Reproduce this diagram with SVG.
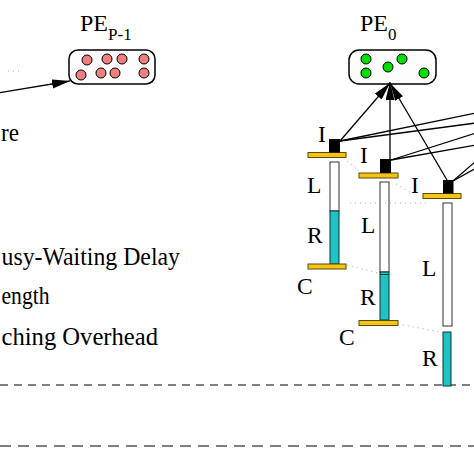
<svg xmlns="http://www.w3.org/2000/svg" width="474" height="474" viewBox="0 0 474 474">
<style>
text{font-family:"Liberation Serif","Times New Roman",serif;fill:#000}
.lbl{font-size:23.5px}
.leg{font-size:24.5px}
.box{fill:#fdfdfd;stroke:#000;stroke-width:1.5}
.pink{fill:#f08080;stroke:#000;stroke-width:1}
.grn{fill:#00e000;stroke:#000;stroke-width:1}
.blk{fill:#000}
.ybar{fill:#f2c418;stroke:#5a4a00;stroke-width:1}
.wbar{fill:#fff;stroke:#333;stroke-width:1}
.cbar{fill:#1ec4c4;stroke:#133;stroke-width:1}
.ln{stroke:#000;stroke-width:1.3;fill:none}
.dot{stroke:#aaa;stroke-width:1;stroke-dasharray:1,4;fill:none}
.dash{stroke:#555;stroke-width:1.5;fill:none}
</style>
<defs>
<marker id="ah" markerUnits="userSpaceOnUse" markerWidth="20" markerHeight="10" refX="18" refY="4.5" orient="auto">
<path d="M0,0 L18,4.5 L0,9 Z" fill="#000"/>
</marker>
</defs>

<g id="dashes">
<line class="dash" x1="0" y1="385" x2="474" y2="385" stroke-dasharray="8,6"/>
<line class="dash" x1="0" y1="446" x2="474" y2="446" stroke-dasharray="11,7"/>
</g>

<g id="legend">
<text class="leg" x="1" y="141" textLength="18" lengthAdjust="spacingAndGlyphs">re</text>
<text class="leg" x="1.5" y="265" textLength="178.5" lengthAdjust="spacingAndGlyphs">usy-Waiting Delay</text>
<text class="leg" x="1.5" y="304" textLength="48" lengthAdjust="spacingAndGlyphs">ength</text>
<text class="leg" x="1.5" y="345" textLength="156.5" lengthAdjust="spacingAndGlyphs">ching Overhead</text>
</g>

<g id="pe-p1">
<text x="80" y="31" font-size="24">PE<tspan font-size="17" dy="9">P-1</tspan></text>
<rect class="box" x="69" y="50" width="86" height="34" rx="9"/>
<circle class="pink" cx="87" cy="60" r="5"/>
<circle class="pink" cx="107" cy="59" r="5"/>
<circle class="pink" cx="122" cy="59" r="5"/>
<circle class="pink" cx="144" cy="59" r="5"/>
<circle class="pink" cx="81" cy="75" r="5"/>
<circle class="pink" cx="101" cy="73" r="5"/>
<circle class="pink" cx="115" cy="73" r="5"/>
<circle class="pink" cx="144" cy="73" r="5"/>
</g>

<g id="pe-0">
<text x="360" y="31" font-size="24">PE<tspan font-size="17" dy="9">0</tspan></text>
<rect class="box" x="349" y="50" width="87" height="34" rx="10"/>
<circle class="grn" cx="366" cy="59" r="5"/>
<circle class="grn" cx="366" cy="73" r="5"/>
<circle class="grn" cx="388" cy="67" r="5"/>
<circle class="grn" cx="402" cy="59" r="5"/>
<circle class="grn" cx="424" cy="73" r="5"/>
</g>

<g id="col1">
<rect class="wbar" x="330" y="162" width="9" height="49"/>
<rect class="cbar" x="330" y="211" width="9" height="53"/>
<rect class="ybar" x="308" y="152.5" width="38" height="5"/>
<rect class="ybar" x="308" y="264" width="38" height="5"/>
<rect class="blk" x="329" y="139" width="11" height="13.5"/>
<text class="lbl" x="318" y="142">I</text>
<text class="lbl" x="307" y="193">L</text>
<text class="lbl" x="307" y="243">R</text>
<text class="lbl" x="297" y="294">C</text>
</g>

<g id="col2">
<rect class="wbar" x="380" y="182" width="9" height="90"/>
<rect class="cbar" x="380" y="272" width="9" height="48"/>
<line x1="380" y1="274.5" x2="389" y2="274.5" stroke="#133" stroke-width="1"/>
<rect class="ybar" x="359" y="320.5" width="39" height="5"/>
<rect class="ybar" x="359" y="173" width="39" height="5"/>
<rect class="blk" x="380" y="159" width="11" height="14"/>
<text class="lbl" x="360" y="163">I</text>
<text class="lbl" x="361" y="233">L</text>
<text class="lbl" x="360" y="305">R</text>
<text class="lbl" x="339" y="345">C</text>
</g>

<g id="col3">
<rect class="wbar" x="443" y="203" width="9" height="123"/>
<rect class="cbar" x="443" y="332" width="8" height="54"/>
<rect class="ybar" x="423" y="193.5" width="38" height="5"/>
<rect class="blk" x="443" y="180" width="10.5" height="13.5"/>
<text class="lbl" x="411" y="193">I</text>
<text class="lbl" x="422" y="276">L</text>
<text class="lbl" x="422" y="366">R</text>
</g>

<g id="connectors">
<line class="ln" x1="-2" y1="93" x2="70" y2="81" marker-end="url(#ah)"/>
<line class="dot" x1="8" y1="71" x2="23" y2="71"/>
<line class="ln" x1="340" y1="141" x2="390" y2="83" marker-end="url(#ah)"/>
<line class="ln" x1="390" y1="159" x2="390" y2="82" marker-end="url(#ah)"/>
<line class="ln" x1="447" y1="180" x2="390" y2="83" marker-end="url(#ah)"/>
<line class="ln" x1="340" y1="141" x2="476" y2="113"/>
<line class="ln" x1="340" y1="141" x2="476" y2="123"/>
<line class="ln" x1="391" y1="160" x2="476" y2="133"/>
<line class="ln" x1="391" y1="160" x2="476" y2="145"/>
<line class="ln" x1="453" y1="181" x2="476" y2="161"/>
<line class="ln" x1="453" y1="181" x2="476" y2="168"/>
<line class="dot" x1="347" y1="161" x2="359" y2="171"/>
<line class="dot" x1="396" y1="184" x2="410" y2="192"/>
<line class="dot" x1="350" y1="203" x2="430" y2="203"/>
<line class="dot" x1="347" y1="265" x2="378" y2="273"/>
<line class="dot" x1="398" y1="324" x2="440" y2="332"/>
</g>
</svg>
